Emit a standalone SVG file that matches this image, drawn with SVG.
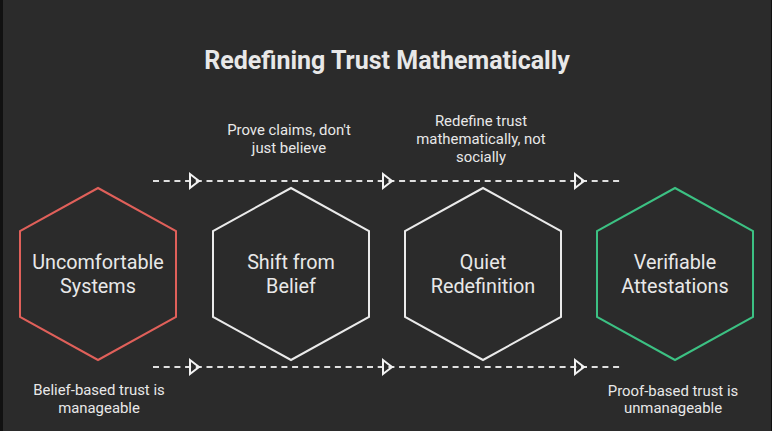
<svg xmlns="http://www.w3.org/2000/svg" width="772" height="431" viewBox="0 0 772 431">
<style>
.t{font-family:Roboto,"Liberation Sans",sans-serif;fill:#e8e8e8;text-anchor:middle}
.title{font-size:25px;font-weight:bold}
.lbl{font-size:19.8px}
.note{font-size:14.9px}
.hex{fill:none;stroke-width:2}
.dash{fill:none;stroke:#e0e0e0;stroke-width:2;stroke-dasharray:6 4.7}
.tri{fill:none;stroke:#f2f2f2;stroke-width:2;stroke-linejoin:miter}
</style>
<rect x="0" y="0" width="772" height="431" fill="#111"/>
<rect x="3" y="0" width="768" height="431" fill="#2b2b2b"/>
<text class="t title" x="387" y="69">Redefining Trust Mathematically</text>
<g id="connectors">
<path class="dash" d="M153 181H622"/>
<path class="dash" d="M153 367H622"/>
<polygon class="tri" points="190,174 199,181 190,188"/>
<polygon class="tri" points="383,174 392,181 383,188"/>
<polygon class="tri" points="575,174 584,181 575,188"/>
<polygon class="tri" points="190,360 199,367 190,374"/>
<polygon class="tri" points="383,360 392,367 383,374"/>
<polygon class="tri" points="575,360 584,367 575,374"/>
</g>
<g id="node1">
<polygon class="hex" stroke="#e0605a" points="98,188 176,231 176,317 98,360 20,317 20,231"/>
<text class="t lbl" x="98" y="269">Uncomfortable</text>
<text class="t lbl" x="98" y="293">Systems</text>
</g>
<g id="node2">
<polygon class="hex" stroke="#eaeaea" points="291,188 369,231 369,317 291,360 213,317 213,231"/>
<text class="t lbl" x="291" y="269">Shift from</text>
<text class="t lbl" x="291" y="293">Belief</text>
</g>
<g id="node3">
<polygon class="hex" stroke="#eaeaea" points="483,188 561,231 561,317 483,360 405,317 405,231"/>
<text class="t lbl" x="483" y="269">Quiet</text>
<text class="t lbl" x="483" y="293">Redefinition</text>
</g>
<g id="node4">
<polygon class="hex" stroke="#3cc183" points="675,188 753,231 753,317 675,360 597,317 597,231"/>
<text class="t lbl" x="675" y="269">Verifiable</text>
<text class="t lbl" x="675" y="293">Attestations</text>
</g>
<g id="notes">
<text class="t note" x="289" y="135">Prove claims, don't</text>
<text class="t note" x="289" y="153">just believe</text>
<text class="t note" x="481" y="126">Redefine trust</text>
<text class="t note" x="481" y="144">mathematically, not</text>
<text class="t note" x="481" y="162">socially</text>
<text class="t note" x="99" y="395">Belief-based trust is</text>
<text class="t note" x="99" y="413">manageable</text>
<text class="t note" x="673" y="396">Proof-based trust is</text>
<text class="t note" x="673" y="413">unmanageable</text>
</g>
</svg>
